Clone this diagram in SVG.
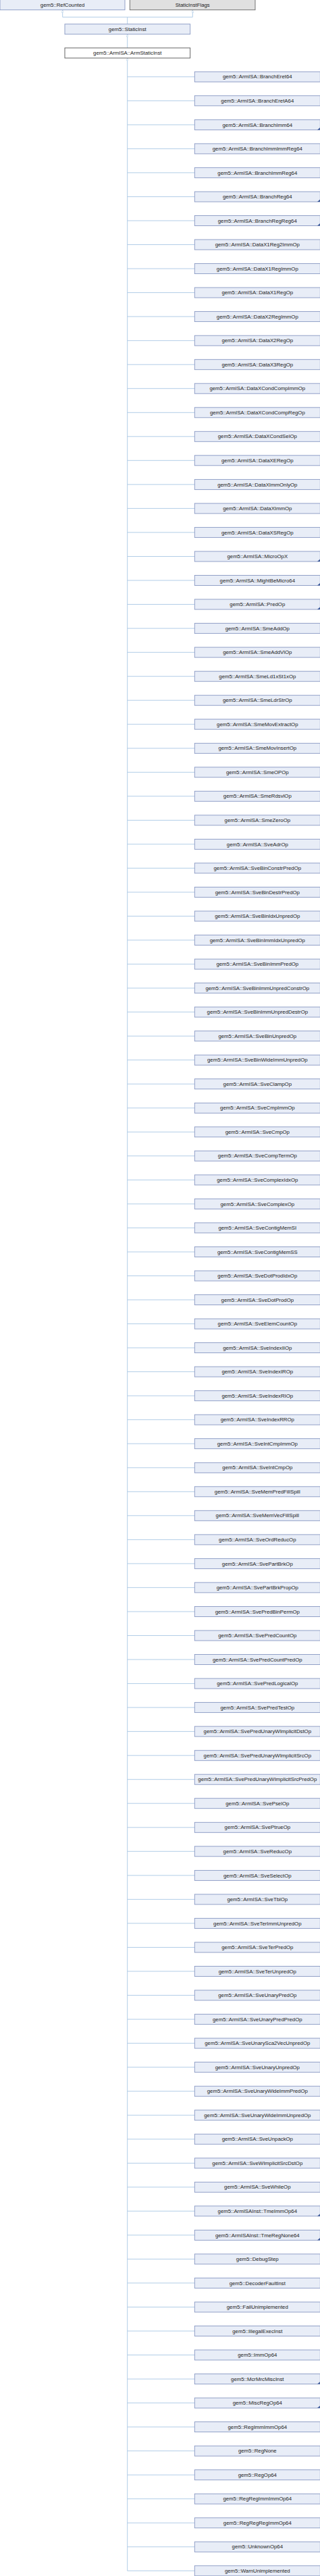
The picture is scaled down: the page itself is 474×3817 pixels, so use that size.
<svg xmlns="http://www.w3.org/2000/svg" width="474" height="3817" viewBox="0 0 474 3817">
<style>
.bg{fill:#ffffff}
.n rect{fill:#e8edf7;stroke:#8797c2;stroke-width:0.9}
.n text{font-family:"Liberation Sans",Arial,sans-serif;font-size:7.8px;fill:#1a1a1a;text-anchor:middle}
.ext rect{fill:#e0e0e0;stroke:#666666}
.cur rect{fill:#ffffff;stroke:#555555}
.e{fill:none;stroke:#a9c7e4;stroke-width:0.9}
.more{fill:#3d5a99}
</style>
<defs>
<marker id="arr" viewBox="0 0 10 10" refX="10" refY="5" markerWidth="4" markerHeight="3.4" markerUnits="userSpaceOnUse" orient="auto">
<path d="M0,0 L10,5 L0,10 z" fill="#ffffff" stroke="#a9c7e4" stroke-width="1.5"/>
</marker>
</defs>
<rect class="bg" x="0" y="0" width="474" height="3817"/>
<g id="connectors">
<path class="e" d="M188.7,35.7 V25.3 H92.7 V15.2" marker-end="url(#arr)"/>
<path class="e" d="M188.7,25.3 H285.3 V15.2" marker-end="url(#arr)"/>
<path class="e" d="M188.7,71 V51" marker-end="url(#arr)"/>
<path class="e" d="M188.7,3809.3 V86.3" marker-end="url(#arr)"/>
<path class="e" d="M188.7,113.8H288.3M188.7,149.3H288.3M188.7,184.9H288.3M188.7,220.4H288.3M188.7,255.9H288.3M188.7,291.5H288.3M188.7,327H288.3M188.7,362.5H288.3M188.7,398.1H288.3M188.7,433.6H288.3M188.7,469.1H288.3M188.7,504.7H288.3M188.7,540.2H288.3M188.7,575.7H288.3M188.7,611.3H288.3M188.7,646.8H288.3M188.7,682.3H288.3M188.7,717.9H288.3M188.7,753.4H288.3M188.7,788.9H288.3M188.7,824.5H288.3M188.7,860H288.3M188.7,895.5H288.3M188.7,931.1H288.3M188.7,966.6H288.3M188.7,1002.2H288.3M188.7,1037.7H288.3M188.7,1073.2H288.3M188.7,1108.8H288.3M188.7,1144.3H288.3M188.7,1179.8H288.3M188.7,1215.4H288.3M188.7,1250.9H288.3M188.7,1286.4H288.3M188.7,1322H288.3M188.7,1357.5H288.3M188.7,1393H288.3M188.7,1428.6H288.3M188.7,1464.1H288.3M188.7,1499.6H288.3M188.7,1535.2H288.3M188.7,1570.7H288.3M188.7,1606.2H288.3M188.7,1641.8H288.3M188.7,1677.3H288.3M188.7,1712.8H288.3M188.7,1748.4H288.3M188.7,1783.9H288.3M188.7,1819.4H288.3M188.7,1855H288.3M188.7,1890.5H288.3M188.7,1926H288.3M188.7,1961.6H288.3M188.7,1997.1H288.3M188.7,2032.6H288.3M188.7,2068.2H288.3M188.7,2103.7H288.3M188.7,2139.2H288.3M188.7,2174.8H288.3M188.7,2210.3H288.3M188.7,2245.8H288.3M188.7,2281.4H288.3M188.7,2316.9H288.3M188.7,2352.4H288.3M188.7,2388H288.3M188.7,2423.5H288.3M188.7,2459H288.3M188.7,2494.6H288.3M188.7,2530.1H288.3M188.7,2565.6H288.3M188.7,2601.2H288.3M188.7,2636.7H288.3M188.7,2672.2H288.3M188.7,2707.8H288.3M188.7,2743.3H288.3M188.7,2778.9H288.3M188.7,2814.4H288.3M188.7,2849.9H288.3M188.7,2885.5H288.3M188.7,2921H288.3M188.7,2956.5H288.3M188.7,2992.1H288.3M188.7,3027.6H288.3M188.7,3063.1H288.3M188.7,3098.7H288.3M188.7,3134.2H288.3M188.7,3169.7H288.3M188.7,3205.3H288.3M188.7,3240.8H288.3M188.7,3276.3H288.3M188.7,3311.9H288.3M188.7,3347.4H288.3M188.7,3382.9H288.3M188.7,3418.5H288.3M188.7,3454H288.3M188.7,3489.5H288.3M188.7,3525.1H288.3M188.7,3560.6H288.3M188.7,3596.1H288.3M188.7,3631.7H288.3M188.7,3667.2H288.3M188.7,3702.7H288.3M188.7,3738.3H288.3M188.7,3773.8H288.3M188.7,3809.3H288.3"/>
</g>
<g id="RefCounted" class="n"><rect x="0" y="-0.5" width="185" height="15.2"/><text x="92.6" y="9.6">gem5::RefCounted</text></g>
<g id="StaticInstFlags" class="n ext"><rect x="192.3" y="-0.5" width="185.7" height="15.2"/><text x="285.2" y="9.6">StaticInstFlags</text></g>
<g id="StaticInst" class="n"><rect x="96" y="35.7" width="185.7" height="15"/><text x="188.8" y="45.9">gem5::StaticInst</text></g>
<g id="ArmStaticInst" class="n cur"><rect x="96" y="71" width="185.7" height="15"/><text x="188.8" y="81.2">gem5::ArmISA::ArmStaticInst</text></g>
<g id="c0" class="n" transform="translate(0,106.3)"><rect x="288.3" y="0" width="186" height="15"/><text x="381.3" y="10.2">gem5::ArmISA::BranchEret64</text></g>
<g id="c1" class="n" transform="translate(0,141.8)"><rect x="288.3" y="0" width="186" height="15"/><text x="381.3" y="10.2">gem5::ArmISA::BranchEretA64</text></g>
<g id="c2" class="n" transform="translate(0,177.4)"><rect x="288.3" y="0" width="186" height="15"/><text x="381.3" y="10.2">gem5::ArmISA::BranchImm64</text><path class="more" d="M470,15 H474 V11.6 z"/></g>
<g id="c3" class="n" transform="translate(0,212.9)"><rect x="288.3" y="0" width="186" height="15"/><text x="381.3" y="10.2">gem5::ArmISA::BranchImmImmReg64</text></g>
<g id="c4" class="n" transform="translate(0,248.4)"><rect x="288.3" y="0" width="186" height="15"/><text x="381.3" y="10.2">gem5::ArmISA::BranchImmReg64</text></g>
<g id="c5" class="n" transform="translate(0,284)"><rect x="288.3" y="0" width="186" height="15"/><text x="381.3" y="10.2">gem5::ArmISA::BranchReg64</text><path class="more" d="M470,15 H474 V11.6 z"/></g>
<g id="c6" class="n" transform="translate(0,319.5)"><rect x="288.3" y="0" width="186" height="15"/><text x="381.3" y="10.2">gem5::ArmISA::BranchRegReg64</text><path class="more" d="M470,15 H474 V11.6 z"/></g>
<g id="c7" class="n" transform="translate(0,355)"><rect x="288.3" y="0" width="186" height="15"/><text x="381.3" y="10.2">gem5::ArmISA::DataX1Reg2ImmOp</text></g>
<g id="c8" class="n" transform="translate(0,390.6)"><rect x="288.3" y="0" width="186" height="15"/><text x="381.3" y="10.2">gem5::ArmISA::DataX1RegImmOp</text></g>
<g id="c9" class="n" transform="translate(0,426.1)"><rect x="288.3" y="0" width="186" height="15"/><text x="381.3" y="10.2">gem5::ArmISA::DataX1RegOp</text></g>
<g id="c10" class="n" transform="translate(0,461.6)"><rect x="288.3" y="0" width="186" height="15"/><text x="381.3" y="10.2">gem5::ArmISA::DataX2RegImmOp</text></g>
<g id="c11" class="n" transform="translate(0,497.2)"><rect x="288.3" y="0" width="186" height="15"/><text x="381.3" y="10.2">gem5::ArmISA::DataX2RegOp</text></g>
<g id="c12" class="n" transform="translate(0,532.7)"><rect x="288.3" y="0" width="186" height="15"/><text x="381.3" y="10.2">gem5::ArmISA::DataX3RegOp</text></g>
<g id="c13" class="n" transform="translate(0,568.2)"><rect x="288.3" y="0" width="186" height="15"/><text x="381.3" y="10.2">gem5::ArmISA::DataXCondCompImmOp</text></g>
<g id="c14" class="n" transform="translate(0,603.8)"><rect x="288.3" y="0" width="186" height="15"/><text x="381.3" y="10.2">gem5::ArmISA::DataXCondCompRegOp</text></g>
<g id="c15" class="n" transform="translate(0,639.3)"><rect x="288.3" y="0" width="186" height="15"/><text x="381.3" y="10.2">gem5::ArmISA::DataXCondSelOp</text></g>
<g id="c16" class="n" transform="translate(0,674.8)"><rect x="288.3" y="0" width="186" height="15"/><text x="381.3" y="10.2">gem5::ArmISA::DataXERegOp</text></g>
<g id="c17" class="n" transform="translate(0,710.4)"><rect x="288.3" y="0" width="186" height="15"/><text x="381.3" y="10.2">gem5::ArmISA::DataXImmOnlyOp</text></g>
<g id="c18" class="n" transform="translate(0,745.9)"><rect x="288.3" y="0" width="186" height="15"/><text x="381.3" y="10.2">gem5::ArmISA::DataXImmOp</text></g>
<g id="c19" class="n" transform="translate(0,781.4)"><rect x="288.3" y="0" width="186" height="15"/><text x="381.3" y="10.2">gem5::ArmISA::DataXSRegOp</text></g>
<g id="c20" class="n" transform="translate(0,817)"><rect x="288.3" y="0" width="186" height="15"/><text x="381.3" y="10.2">gem5::ArmISA::MicroOpX</text><path class="more" d="M470,15 H474 V11.6 z"/></g>
<g id="c21" class="n" transform="translate(0,852.5)"><rect x="288.3" y="0" width="186" height="15"/><text x="381.3" y="10.2">gem5::ArmISA::MightBeMicro64</text><path class="more" d="M470,15 H474 V11.6 z"/></g>
<g id="c22" class="n" transform="translate(0,888)"><rect x="288.3" y="0" width="186" height="15"/><text x="381.3" y="10.2">gem5::ArmISA::PredOp</text><path class="more" d="M470,15 H474 V11.6 z"/></g>
<g id="c23" class="n" transform="translate(0,923.6)"><rect x="288.3" y="0" width="186" height="15"/><text x="381.3" y="10.2">gem5::ArmISA::SmeAddOp</text></g>
<g id="c24" class="n" transform="translate(0,959.1)"><rect x="288.3" y="0" width="186" height="15"/><text x="381.3" y="10.2">gem5::ArmISA::SmeAddVlOp</text></g>
<g id="c25" class="n" transform="translate(0,994.7)"><rect x="288.3" y="0" width="186" height="15"/><text x="381.3" y="10.2">gem5::ArmISA::SmeLd1xSt1xOp</text></g>
<g id="c26" class="n" transform="translate(0,1030.2)"><rect x="288.3" y="0" width="186" height="15"/><text x="381.3" y="10.2">gem5::ArmISA::SmeLdrStrOp</text></g>
<g id="c27" class="n" transform="translate(0,1065.7)"><rect x="288.3" y="0" width="186" height="15"/><text x="381.3" y="10.2">gem5::ArmISA::SmeMovExtractOp</text></g>
<g id="c28" class="n" transform="translate(0,1101.3)"><rect x="288.3" y="0" width="186" height="15"/><text x="381.3" y="10.2">gem5::ArmISA::SmeMovInsertOp</text></g>
<g id="c29" class="n" transform="translate(0,1136.8)"><rect x="288.3" y="0" width="186" height="15"/><text x="381.3" y="10.2">gem5::ArmISA::SmeOPOp</text></g>
<g id="c30" class="n" transform="translate(0,1172.3)"><rect x="288.3" y="0" width="186" height="15"/><text x="381.3" y="10.2">gem5::ArmISA::SmeRdsvlOp</text></g>
<g id="c31" class="n" transform="translate(0,1207.9)"><rect x="288.3" y="0" width="186" height="15"/><text x="381.3" y="10.2">gem5::ArmISA::SmeZeroOp</text></g>
<g id="c32" class="n" transform="translate(0,1243.4)"><rect x="288.3" y="0" width="186" height="15"/><text x="381.3" y="10.2">gem5::ArmISA::SveAdrOp</text></g>
<g id="c33" class="n" transform="translate(0,1278.9)"><rect x="288.3" y="0" width="186" height="15"/><text x="381.3" y="10.2">gem5::ArmISA::SveBinConstrPredOp</text></g>
<g id="c34" class="n" transform="translate(0,1314.5)"><rect x="288.3" y="0" width="186" height="15"/><text x="381.3" y="10.2">gem5::ArmISA::SveBinDestrPredOp</text></g>
<g id="c35" class="n" transform="translate(0,1350)"><rect x="288.3" y="0" width="186" height="15"/><text x="381.3" y="10.2">gem5::ArmISA::SveBinIdxUnpredOp</text></g>
<g id="c36" class="n" transform="translate(0,1385.5)"><rect x="288.3" y="0" width="186" height="15"/><text x="381.3" y="10.2">gem5::ArmISA::SveBinImmIdxUnpredOp</text></g>
<g id="c37" class="n" transform="translate(0,1421.1)"><rect x="288.3" y="0" width="186" height="15"/><text x="381.3" y="10.2">gem5::ArmISA::SveBinImmPredOp</text></g>
<g id="c38" class="n" transform="translate(0,1456.6)"><rect x="288.3" y="0" width="186" height="15"/><text x="381.3" y="10.2">gem5::ArmISA::SveBinImmUnpredConstrOp</text></g>
<g id="c39" class="n" transform="translate(0,1492.1)"><rect x="288.3" y="0" width="186" height="15"/><text x="381.3" y="10.2">gem5::ArmISA::SveBinImmUnpredDestrOp</text></g>
<g id="c40" class="n" transform="translate(0,1527.7)"><rect x="288.3" y="0" width="186" height="15"/><text x="381.3" y="10.2">gem5::ArmISA::SveBinUnpredOp</text></g>
<g id="c41" class="n" transform="translate(0,1563.2)"><rect x="288.3" y="0" width="186" height="15"/><text x="381.3" y="10.2">gem5::ArmISA::SveBinWideImmUnpredOp</text></g>
<g id="c42" class="n" transform="translate(0,1598.7)"><rect x="288.3" y="0" width="186" height="15"/><text x="381.3" y="10.2">gem5::ArmISA::SveClampOp</text></g>
<g id="c43" class="n" transform="translate(0,1634.3)"><rect x="288.3" y="0" width="186" height="15"/><text x="381.3" y="10.2">gem5::ArmISA::SveCmpImmOp</text></g>
<g id="c44" class="n" transform="translate(0,1669.8)"><rect x="288.3" y="0" width="186" height="15"/><text x="381.3" y="10.2">gem5::ArmISA::SveCmpOp</text></g>
<g id="c45" class="n" transform="translate(0,1705.3)"><rect x="288.3" y="0" width="186" height="15"/><text x="381.3" y="10.2">gem5::ArmISA::SveCompTermOp</text></g>
<g id="c46" class="n" transform="translate(0,1740.9)"><rect x="288.3" y="0" width="186" height="15"/><text x="381.3" y="10.2">gem5::ArmISA::SveComplexIdxOp</text></g>
<g id="c47" class="n" transform="translate(0,1776.4)"><rect x="288.3" y="0" width="186" height="15"/><text x="381.3" y="10.2">gem5::ArmISA::SveComplexOp</text></g>
<g id="c48" class="n" transform="translate(0,1811.9)"><rect x="288.3" y="0" width="186" height="15"/><text x="381.3" y="10.2">gem5::ArmISA::SveContigMemSI</text></g>
<g id="c49" class="n" transform="translate(0,1847.5)"><rect x="288.3" y="0" width="186" height="15"/><text x="381.3" y="10.2">gem5::ArmISA::SveContigMemSS</text></g>
<g id="c50" class="n" transform="translate(0,1883)"><rect x="288.3" y="0" width="186" height="15"/><text x="381.3" y="10.2">gem5::ArmISA::SveDotProdIdxOp</text></g>
<g id="c51" class="n" transform="translate(0,1918.5)"><rect x="288.3" y="0" width="186" height="15"/><text x="381.3" y="10.2">gem5::ArmISA::SveDotProdOp</text></g>
<g id="c52" class="n" transform="translate(0,1954.1)"><rect x="288.3" y="0" width="186" height="15"/><text x="381.3" y="10.2">gem5::ArmISA::SveElemCountOp</text></g>
<g id="c53" class="n" transform="translate(0,1989.6)"><rect x="288.3" y="0" width="186" height="15"/><text x="381.3" y="10.2">gem5::ArmISA::SveIndexIIOp</text></g>
<g id="c54" class="n" transform="translate(0,2025.1)"><rect x="288.3" y="0" width="186" height="15"/><text x="381.3" y="10.2">gem5::ArmISA::SveIndexIROp</text></g>
<g id="c55" class="n" transform="translate(0,2060.7)"><rect x="288.3" y="0" width="186" height="15"/><text x="381.3" y="10.2">gem5::ArmISA::SveIndexRIOp</text></g>
<g id="c56" class="n" transform="translate(0,2096.2)"><rect x="288.3" y="0" width="186" height="15"/><text x="381.3" y="10.2">gem5::ArmISA::SveIndexRROp</text></g>
<g id="c57" class="n" transform="translate(0,2131.7)"><rect x="288.3" y="0" width="186" height="15"/><text x="381.3" y="10.2">gem5::ArmISA::SveIntCmpImmOp</text></g>
<g id="c58" class="n" transform="translate(0,2167.3)"><rect x="288.3" y="0" width="186" height="15"/><text x="381.3" y="10.2">gem5::ArmISA::SveIntCmpOp</text></g>
<g id="c59" class="n" transform="translate(0,2202.8)"><rect x="288.3" y="0" width="186" height="15"/><text x="381.3" y="10.2">gem5::ArmISA::SveMemPredFillSpill</text></g>
<g id="c60" class="n" transform="translate(0,2238.3)"><rect x="288.3" y="0" width="186" height="15"/><text x="381.3" y="10.2">gem5::ArmISA::SveMemVecFillSpill</text></g>
<g id="c61" class="n" transform="translate(0,2273.9)"><rect x="288.3" y="0" width="186" height="15"/><text x="381.3" y="10.2">gem5::ArmISA::SveOrdReducOp</text></g>
<g id="c62" class="n" transform="translate(0,2309.4)"><rect x="288.3" y="0" width="186" height="15"/><text x="381.3" y="10.2">gem5::ArmISA::SvePartBrkOp</text></g>
<g id="c63" class="n" transform="translate(0,2344.9)"><rect x="288.3" y="0" width="186" height="15"/><text x="381.3" y="10.2">gem5::ArmISA::SvePartBrkPropOp</text></g>
<g id="c64" class="n" transform="translate(0,2380.5)"><rect x="288.3" y="0" width="186" height="15"/><text x="381.3" y="10.2">gem5::ArmISA::SvePredBinPermOp</text></g>
<g id="c65" class="n" transform="translate(0,2416)"><rect x="288.3" y="0" width="186" height="15"/><text x="381.3" y="10.2">gem5::ArmISA::SvePredCountOp</text></g>
<g id="c66" class="n" transform="translate(0,2451.5)"><rect x="288.3" y="0" width="186" height="15"/><text x="381.3" y="10.2">gem5::ArmISA::SvePredCountPredOp</text></g>
<g id="c67" class="n" transform="translate(0,2487.1)"><rect x="288.3" y="0" width="186" height="15"/><text x="381.3" y="10.2">gem5::ArmISA::SvePredLogicalOp</text></g>
<g id="c68" class="n" transform="translate(0,2522.6)"><rect x="288.3" y="0" width="186" height="15"/><text x="381.3" y="10.2">gem5::ArmISA::SvePredTestOp</text></g>
<g id="c69" class="n" transform="translate(0,2558.1)"><rect x="288.3" y="0" width="186" height="15"/><text x="381.3" y="10.2">gem5::ArmISA::SvePredUnaryWImplicitDstOp</text></g>
<g id="c70" class="n" transform="translate(0,2593.7)"><rect x="288.3" y="0" width="186" height="15"/><text x="381.3" y="10.2">gem5::ArmISA::SvePredUnaryWImplicitSrcOp</text></g>
<g id="c71" class="n" transform="translate(0,2629.2)"><rect x="288.3" y="0" width="186" height="15"/><text x="381.3" y="10.2">gem5::ArmISA::SvePredUnaryWImplicitSrcPredOp</text></g>
<g id="c72" class="n" transform="translate(0,2664.7)"><rect x="288.3" y="0" width="186" height="15"/><text x="381.3" y="10.2">gem5::ArmISA::SvePselOp</text></g>
<g id="c73" class="n" transform="translate(0,2700.3)"><rect x="288.3" y="0" width="186" height="15"/><text x="381.3" y="10.2">gem5::ArmISA::SvePtrueOp</text></g>
<g id="c74" class="n" transform="translate(0,2735.8)"><rect x="288.3" y="0" width="186" height="15"/><text x="381.3" y="10.2">gem5::ArmISA::SveReducOp</text></g>
<g id="c75" class="n" transform="translate(0,2771.4)"><rect x="288.3" y="0" width="186" height="15"/><text x="381.3" y="10.2">gem5::ArmISA::SveSelectOp</text></g>
<g id="c76" class="n" transform="translate(0,2806.9)"><rect x="288.3" y="0" width="186" height="15"/><text x="381.3" y="10.2">gem5::ArmISA::SveTblOp</text></g>
<g id="c77" class="n" transform="translate(0,2842.4)"><rect x="288.3" y="0" width="186" height="15"/><text x="381.3" y="10.2">gem5::ArmISA::SveTerImmUnpredOp</text></g>
<g id="c78" class="n" transform="translate(0,2878)"><rect x="288.3" y="0" width="186" height="15"/><text x="381.3" y="10.2">gem5::ArmISA::SveTerPredOp</text></g>
<g id="c79" class="n" transform="translate(0,2913.5)"><rect x="288.3" y="0" width="186" height="15"/><text x="381.3" y="10.2">gem5::ArmISA::SveTerUnpredOp</text></g>
<g id="c80" class="n" transform="translate(0,2949)"><rect x="288.3" y="0" width="186" height="15"/><text x="381.3" y="10.2">gem5::ArmISA::SveUnaryPredOp</text></g>
<g id="c81" class="n" transform="translate(0,2984.6)"><rect x="288.3" y="0" width="186" height="15"/><text x="381.3" y="10.2">gem5::ArmISA::SveUnaryPredPredOp</text></g>
<g id="c82" class="n" transform="translate(0,3020.1)"><rect x="288.3" y="0" width="186" height="15"/><text x="381.3" y="10.2">gem5::ArmISA::SveUnarySca2VecUnpredOp</text></g>
<g id="c83" class="n" transform="translate(0,3055.6)"><rect x="288.3" y="0" width="186" height="15"/><text x="381.3" y="10.2">gem5::ArmISA::SveUnaryUnpredOp</text></g>
<g id="c84" class="n" transform="translate(0,3091.2)"><rect x="288.3" y="0" width="186" height="15"/><text x="381.3" y="10.2">gem5::ArmISA::SveUnaryWideImmPredOp</text></g>
<g id="c85" class="n" transform="translate(0,3126.7)"><rect x="288.3" y="0" width="186" height="15"/><text x="381.3" y="10.2">gem5::ArmISA::SveUnaryWideImmUnpredOp</text></g>
<g id="c86" class="n" transform="translate(0,3162.2)"><rect x="288.3" y="0" width="186" height="15"/><text x="381.3" y="10.2">gem5::ArmISA::SveUnpackOp</text></g>
<g id="c87" class="n" transform="translate(0,3197.8)"><rect x="288.3" y="0" width="186" height="15"/><text x="381.3" y="10.2">gem5::ArmISA::SveWImplicitSrcDstOp</text></g>
<g id="c88" class="n" transform="translate(0,3233.3)"><rect x="288.3" y="0" width="186" height="15"/><text x="381.3" y="10.2">gem5::ArmISA::SveWhileOp</text></g>
<g id="c89" class="n" transform="translate(0,3268.8)"><rect x="288.3" y="0" width="186" height="15"/><text x="381.3" y="10.2">gem5::ArmISAInst::TmeImmOp64</text><path class="more" d="M470,15 H474 V11.6 z"/></g>
<g id="c90" class="n" transform="translate(0,3304.4)"><rect x="288.3" y="0" width="186" height="15"/><text x="381.3" y="10.2">gem5::ArmISAInst::TmeRegNone64</text><path class="more" d="M470,15 H474 V11.6 z"/></g>
<g id="c91" class="n" transform="translate(0,3339.9)"><rect x="288.3" y="0" width="186" height="15"/><text x="381.3" y="10.2">gem5::DebugStep</text></g>
<g id="c92" class="n" transform="translate(0,3375.4)"><rect x="288.3" y="0" width="186" height="15"/><text x="381.3" y="10.2">gem5::DecoderFaultInst</text></g>
<g id="c93" class="n" transform="translate(0,3411)"><rect x="288.3" y="0" width="186" height="15"/><text x="381.3" y="10.2">gem5::FailUnimplemented</text></g>
<g id="c94" class="n" transform="translate(0,3446.5)"><rect x="288.3" y="0" width="186" height="15"/><text x="381.3" y="10.2">gem5::IllegalExecInst</text></g>
<g id="c95" class="n" transform="translate(0,3482)"><rect x="288.3" y="0" width="186" height="15"/><text x="381.3" y="10.2">gem5::ImmOp64</text></g>
<g id="c96" class="n" transform="translate(0,3517.6)"><rect x="288.3" y="0" width="186" height="15"/><text x="381.3" y="10.2">gem5::McrMrcMiscInst</text><path class="more" d="M470,15 H474 V11.6 z"/></g>
<g id="c97" class="n" transform="translate(0,3553.1)"><rect x="288.3" y="0" width="186" height="15"/><text x="381.3" y="10.2">gem5::MiscRegOp64</text><path class="more" d="M470,15 H474 V11.6 z"/></g>
<g id="c98" class="n" transform="translate(0,3588.6)"><rect x="288.3" y="0" width="186" height="15"/><text x="381.3" y="10.2">gem5::RegImmImmOp64</text></g>
<g id="c99" class="n" transform="translate(0,3624.2)"><rect x="288.3" y="0" width="186" height="15"/><text x="381.3" y="10.2">gem5::RegNone</text></g>
<g id="c100" class="n" transform="translate(0,3659.7)"><rect x="288.3" y="0" width="186" height="15"/><text x="381.3" y="10.2">gem5::RegOp64</text></g>
<g id="c101" class="n" transform="translate(0,3695.2)"><rect x="288.3" y="0" width="186" height="15"/><text x="381.3" y="10.2">gem5::RegRegImmImmOp64</text></g>
<g id="c102" class="n" transform="translate(0,3730.8)"><rect x="288.3" y="0" width="186" height="15"/><text x="381.3" y="10.2">gem5::RegRegRegImmOp64</text></g>
<g id="c103" class="n" transform="translate(0,3766.3)"><rect x="288.3" y="0" width="186" height="15"/><text x="381.3" y="10.2">gem5::UnknownOp64</text></g>
<g id="c104" class="n" transform="translate(0,3801.8)"><rect x="288.3" y="0" width="186" height="15"/><text x="381.3" y="10.2">gem5::WarnUnimplemented</text></g>
</svg>
